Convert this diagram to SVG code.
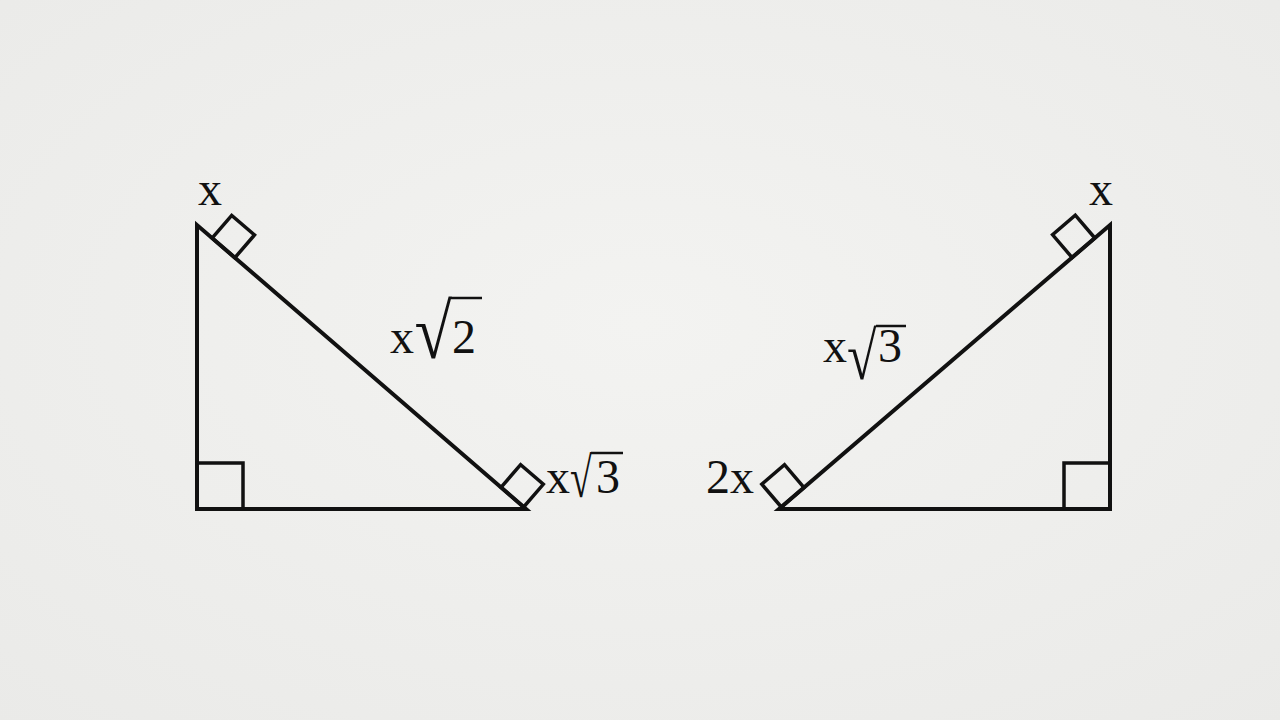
<svg xmlns="http://www.w3.org/2000/svg" width="1280" height="720" viewBox="0 0 1280 720">
<defs>
<radialGradient id="bg" cx="50%" cy="45%" r="75%">
<stop offset="0" stop-color="#f3f3f1"/>
<stop offset="1" stop-color="#eaeae8"/>
</radialGradient>
<style>
.tri{fill:none;stroke:#111;stroke-width:4;stroke-linejoin:miter}
.sq{fill:none;stroke:#111;stroke-width:3.5;stroke-linejoin:miter}
.lbl{font-family:"Liberation Serif","Times New Roman",serif;font-size:48px;fill:#111}
.rad{font-family:"Liberation Serif","Times New Roman",serif;font-size:56px;fill:#111}
.vin{stroke:#111;stroke-width:2.5}
</style>
</defs>
<rect width="1280" height="720" fill="url(#bg)"/>
<g id="triangle-left">
<polygon class="tri" points="197,225 197,509 526,509"/>
<polyline class="sq" points="197,463 243,463 243,509"/>
<polygon class="sq" points="212.1,238.1 231.7,215.4 254.5,235.0 234.9,257.7"/>
<polygon class="sq" points="501.0,487.4 520.6,464.7 543.3,484.3 523.7,507.0"/>
</g>
<g id="triangle-right">
<polygon class="tri" points="779,509 1110,509 1110,225"/>
<polyline class="sq" points="1110,463 1064,463 1064,509"/>
<polygon class="sq" points="781.3,507.0 761.8,484.2 784.5,464.7 804.0,487.5"/>
<polygon class="sq" points="1094.8,238.0 1075.3,215.2 1052.6,234.8 1072.1,257.6"/>
</g>
<g id="labels">
<text class="lbl" x="210" y="205" text-anchor="middle">x</text>
<g id="label-x-root2">
<text class="lbl" x="390" y="353">x</text>
<text class="rad" transform="translate(414.4,358.4) scale(1.21,1.39)">√</text>
<line class="vin" x1="451" y1="298" x2="482" y2="298"/>
<text class="lbl" x="452" y="353">2</text>
</g>
<g id="label-x-root3-left">
<text class="lbl" x="546" y="493">x</text>
<text class="rad" transform="translate(569.9,496.9) scale(0.71,1.01)">√</text>
<line class="vin" x1="591" y1="453" x2="623" y2="453"/>
<text class="lbl" x="596" y="493">3</text>
</g>
<text class="lbl" x="706" y="493">2x</text>
<g id="label-x-root3-right">
<text class="lbl" x="823" y="362">x</text>
<text class="rad" transform="translate(847.1,378.6) scale(0.96,1.21)">√</text>
<line class="vin" x1="876" y1="326" x2="906" y2="326"/>
<text class="lbl" x="878" y="362">3</text>
</g>
<text class="lbl" x="1101" y="205" text-anchor="middle">x</text>
</g>
</svg>
